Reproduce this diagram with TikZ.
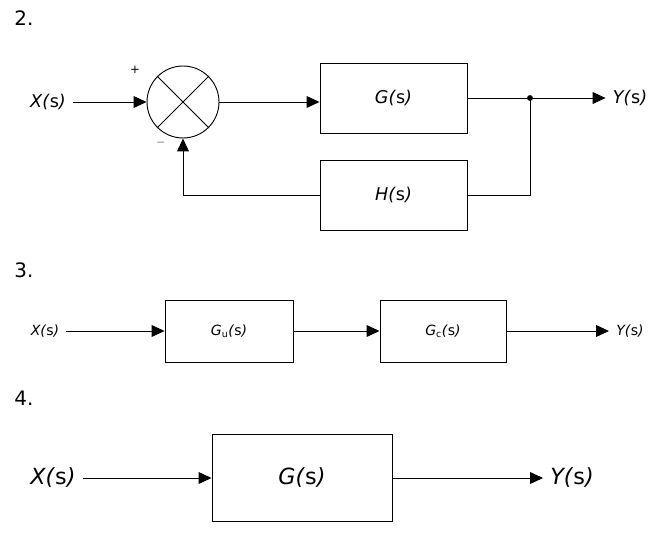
\documentclass[tikz,border=0pt]{standalone}
\usepackage{fontspec}
\setmainfont{DejaVu Sans}
\usetikzlibrary{arrows.meta}
\begin{document}
\begin{tikzpicture}[x=0.03cm,y=-0.03cm,
  box/.style={draw,thick,rectangle,inner sep=0pt},
  line/.style={draw,thick,-{Triangle[length=11pt,width=10pt]}},
  wire/.style={draw,thick},
  lbl/.style={inner sep=6pt},
  num/.style={font=\fontsize{17}{20}\selectfont}]
\useasboundingbox (0,0) rectangle (667,534);
% section 2
\node[num] at (24,18) {2.};
\node[lbl,font=\fontsize{15}{18}\selectfont\itshape] (x2) at (48,102) {X(\textup{s})};
\node[draw,thick,circle,minimum size=72*0.03cm] (sum) at (183,102) {};
\draw[thick] (sum.45) -- (sum.225) (sum.135) -- (sum.315);
\node[font=\normalsize] at (135,70) {+};
\node[font=\normalsize] at (161,143) {$-$};
\node[box,minimum width=147*0.03cm,minimum height=70*0.03cm,font=\fontsize{15}{18}\selectfont\itshape] (g2) at (393.5,98) {G(\textup{s})};
\node[box,minimum width=147*0.03cm,minimum height=70*0.03cm,font=\fontsize{15}{18}\selectfont\itshape] (h2) at (393.5,195) {H(\textup{s})};
\node[lbl,font=\fontsize{15}{18}\selectfont\itshape] (y2) at (630,98) {Y(\textup{s})};
\coordinate (dot) at (530,98);
\fill (dot) circle (2.5pt);
\path[line] (x2) -- (sum.west);
\path[line] (sum.east) -- (g2.west|-sum.east);
\path[wire] (g2.east) -- (dot);
\path[line] (dot) -- (y2.west);
\path[wire] (dot) |- (h2.east);
\path[line] (h2.west) -| (sum.south);
% section 3
\node[num] at (24,270) {3.};
\node[lbl,font=\fontsize{12}{14}\selectfont\itshape] (x3) at (45,331) {X(\textup{s})};
\node[box,minimum width=128*0.03cm,minimum height=62*0.03cm,font=\fontsize{12}{14}\selectfont\itshape] (gu) at (229,331) {G\textsubscript{\textup{u}}(\textup{s})};
\node[box,minimum width=126*0.03cm,minimum height=62*0.03cm,font=\fontsize{12}{14}\selectfont\itshape] (gc) at (443,331) {G\textsubscript{\textup{c}}(\textup{s})};
\node[lbl,font=\fontsize{12}{14}\selectfont\itshape] (y3) at (630,331) {Y(\textup{s})};
\path[line] (x3) -- (gu);
\path[line] (gu) -- (gc);
\path[line] (gc) -- (y3);
% section 4
\node[num] at (24,398) {4.};
\node[lbl,font=\fontsize{19}{22}\selectfont\itshape] (x4) at (53,478) {X(\textup{s})};
\node[box,minimum width=180*0.03cm,minimum height=87*0.03cm,font=\fontsize{19}{22}\selectfont\itshape] (g4) at (302,478) {G(\textup{s})};
\node[lbl,font=\fontsize{19}{22}\selectfont\itshape] (y4) at (572,478) {Y(\textup{s})};
\path[line] (x4) -- (g4);
\path[line] (g4) -- (y4);
\end{tikzpicture}
\end{document}
